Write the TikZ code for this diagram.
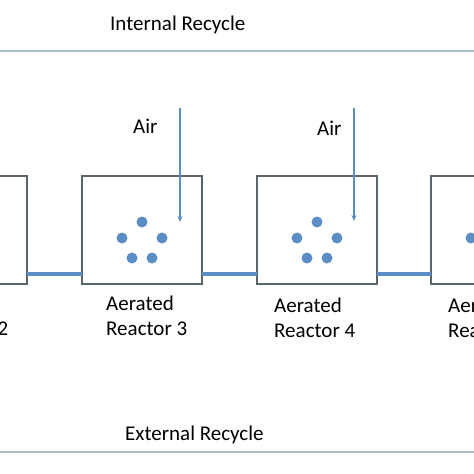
\documentclass[tikz,border=0pt]{standalone}
\usepackage{fontspec}
\setmainfont{Carlito}
\usetikzlibrary{positioning,arrows.meta}

\definecolor{pipeblue}{HTML}{5B8EC6}
\definecolor{boxgray}{HTML}{5A646B}
\definecolor{recyclegray}{HTML}{A9BDC9}

\tikzset{
  reactor/.style={draw=boxgray, line width=1.3pt, minimum width=120pt, minimum height=108pt, inner sep=0pt, outer sep=0pt},
  pipe/.style={draw=pipeblue, line width=4.5pt},
  airline/.style={draw=pipeblue, line width=2.4pt, -{Stealth[length=6pt,width=5pt]}},
  recycle/.style={draw=recyclegray, line width=1.5pt},
  bubble/.style={fill=pipeblue},
  lbl/.style={font=\fontsize{21}{25}\selectfont, inner sep=0pt, align=left, anchor=base west}
}

\begin{document}
\begin{tikzpicture}[x=1pt,y=-1pt]

  \useasboundingbox (0,0) rectangle (474,474);

  \node (r2) [reactor] at (-33,230) {};
  \node (r3) [reactor, right=55pt of r2] {};
  \node (r4) [reactor, right=55pt of r3] {};
  \node (r5) [reactor, right=54pt of r4] {};

  \draw [pipe] ([yshift=10pt]r2.south east) -- ([yshift=10pt]r3.south west);
  \draw [pipe] ([yshift=10pt]r3.south east) -- ([yshift=10pt]r4.south west);
  \draw [pipe] ([yshift=10pt]r4.south east) -- ([yshift=10pt]r5.south west);

  \foreach \r in {r3,r4,r5}
    \foreach \dx/\dy in {60/46, 40/62, 80/62, 50/82, 70/82}
      \fill [bubble] ([xshift=\dx pt, yshift=-\dy pt]\r.north west) circle (5.5pt);

  \coordinate (air3) at ([xshift=98pt, yshift=68pt]r3.north west);
  \coordinate (air4) at ([xshift=97pt, yshift=68pt]r4.north west);
  \draw [airline] (air3) -- ([xshift=98pt, yshift=-46pt]r3.north west);
  \draw [airline] (air4) -- ([xshift=97pt, yshift=-45pt]r4.north west);

  \node (air3lbl) [lbl] at ([xshift=51pt, yshift=43pt]r3.north west) {Air};
  \node (air4lbl) [lbl] at ([xshift=60pt, yshift=41pt]r4.north west) {Air};

  \node (r2lbl) [lbl] at ([xshift=20pt, yshift=-51pt]r2.south west) {Reactor 2};
  \node (r3lbl) [lbl] at ([xshift=24pt, yshift=-51pt]r3.south west) {Aerated\\Reactor 3};
  \node (r4lbl) [lbl] at ([xshift=17pt, yshift=-53pt]r4.south west) {Aerated\\Reactor 4};
  \node (r5lbl) [lbl] at ([xshift=17pt, yshift=-53pt]r5.south west) {Aerated\\Reactor 5};

  \coordinate (inL) at (0,51);
  \coordinate (inR) at (474,51);
  \coordinate (exL) at (0,452);
  \coordinate (exR) at (474,452);
  \draw [recycle] (inL) -- (inR);
  \draw [recycle] (exL) -- (exR);
  \node (inlbl) [lbl] at (110,30) {Internal Recycle};
  \node (exlbl) [lbl] at (125,440) {External Recycle};

\end{tikzpicture}
\end{document}
